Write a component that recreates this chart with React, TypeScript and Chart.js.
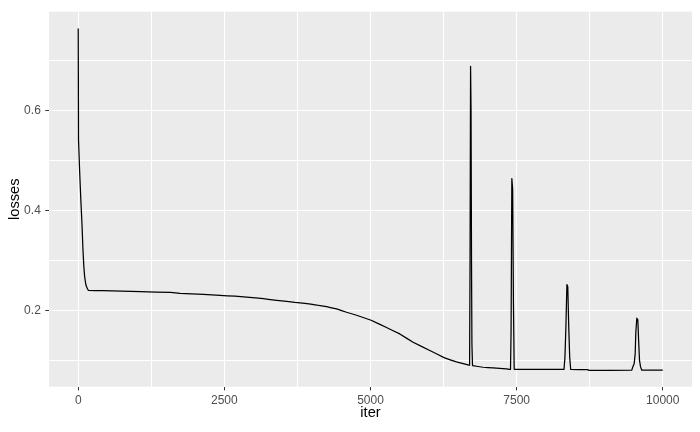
import React, { useEffect, useRef } from "react";
import { Chart, registerables } from "chart.js";

Chart.register(...registerables);

// Data
const iters = [
  0, 5, 25, 45, 65, 80, 95, 110, 130, 150, 175, 420, 1070, 1580, 1743, 2141,
  2426, 2682, 2882, 3081, 3252, 3395, 3566, 3708, 3879, 4078, 4249, 4420, 4591,
  4762, 5011, 5274, 5501, 5729, 6014, 6258, 6470, 6668, 6695, 6703, 6712, 6720,
  6728, 6735, 6745, 6812, 6925, 7096, 7324, 7395, 7405, 7418, 7432, 7445, 7458,
  7475, 8310, 8326, 8343, 8360, 8375, 8390, 8408, 8425, 8720, 8730, 9470, 9487,
  9511, 9528, 9539, 9556, 9573, 9588, 9602, 9620, 9641, 10000,
];
const losses = [
  0.765, 0.542, 0.476, 0.42, 0.371, 0.324, 0.289, 0.267, 0.2515, 0.2448, 0.2396,
  0.2392, 0.2372, 0.2356, 0.2337, 0.2317, 0.2297, 0.2283, 0.2263, 0.2244, 0.2218,
  0.2198, 0.2178, 0.2158, 0.2139, 0.2105, 0.2071, 0.2026, 0.196, 0.19, 0.18,
  0.1655, 0.1525, 0.1358, 0.1194, 0.105, 0.0963, 0.0903, 0.0897, 0.298, 0.689,
  0.601, 0.298, 0.133, 0.089, 0.0877, 0.0857, 0.0844, 0.0824, 0.0812, 0.157,
  0.464, 0.442, 0.2165, 0.0818, 0.0815, 0.0812, 0.105, 0.167, 0.2515, 0.247,
  0.172, 0.105, 0.0812, 0.081, 0.0795, 0.0798, 0.0864, 0.093, 0.113, 0.1556,
  0.184, 0.181, 0.136, 0.0996, 0.0864, 0.0798, 0.0798,
];

const xMajorTicks = [0, 2500, 5000, 7500, 10000];
const xMinorTicks = [1250, 3750, 6250, 8750];
const yMajorTicks = [0.2, 0.4, 0.6];
const yMinorTicks = [0.1, 0.3, 0.5, 0.7];
const xTitle = "iter";
const yTitle = "losses";

const FONT = "'Liberation Sans', Arial, sans-serif";

const isMajor = (list: number[], v: number) =>
  list.some((m) => Math.abs(m - v) < 1e-9);

const panelBg = {
  id: "panelBg",
  beforeDraw(chart: any) {
    const { ctx, chartArea } = chart;
    if (!chartArea) return;
    ctx.save();
    ctx.fillStyle = "#EBEBEB";
    ctx.fillRect(
      chartArea.left,
      chartArea.top,
      chartArea.right - chartArea.left,
      chartArea.bottom - chartArea.top
    );
    ctx.restore();
  },
};

export default function App() {
  const ref = useRef<HTMLCanvasElement | null>(null);

  useEffect(() => {
    if (!ref.current) return;
    const points = iters.map((x, i) => ({ x, y: losses[i] }));
    const chart = new Chart(ref.current, {
      type: "line",
      data: {
        datasets: [
          {
            data: points,
            borderColor: "#000000",
            borderWidth: 1.25,
            pointRadius: 0,
            tension: 0.0001,
            borderJoinStyle: "round",
            fill: false,
          },
        ],
      },
      plugins: [panelBg],
      options: {
        animation: false,
        responsive: false,
        devicePixelRatio: 1,
        layout: { padding: { top: 6.7, right: 8, left: 0, bottom: 0 } },
        plugins: {
          legend: { display: false },
          tooltip: { enabled: false },
        },
        scales: {
          x: {
            type: "linear",
            min: -500,
            max: 10500,
            afterBuildTicks: (s: any) => {
              s.ticks = [...xMajorTicks, ...xMinorTicks]
                .sort((a, b) => a - b)
                .map((v) => ({ value: v }));
            },
            afterFit: (s: any) => {
              s.height = 45.3;
            },
            ticks: {
              autoSkip: false,
              maxRotation: 0,
              padding: 3,
              color: "#4D4D4D",
              font: { family: FONT, size: 12 },
              callback: (v: any) => (isMajor(xMajorTicks, Number(v)) ? String(v) : ""),
            },
            grid: {
              color: "#FFFFFF",
              lineWidth: 1,
              tickColor: (c: any) =>
                c.tick && isMajor(xMajorTicks, c.tick.value) ? "#333333" : "rgba(0,0,0,0)",
              tickLength: 3.7,
              tickWidth: 1,
            },
            border: { display: false },
            title: {
              display: true,
              text: xTitle,
              color: "#000000",
              font: { family: FONT, size: 14.67 },
              padding: { top: 0, bottom: 10.5 },
            },
          },
          y: {
            type: "linear",
            min: 0.0467,
            max: 0.7986,
            afterBuildTicks: (s: any) => {
              s.ticks = [...yMajorTicks, ...yMinorTicks]
                .sort((a, b) => a - b)
                .map((v) => ({ value: v }));
            },
            afterFit: (s: any) => {
              s.width = 49;
            },
            ticks: {
              autoSkip: false,
              padding: 4.5,
              color: "#4D4D4D",
              font: { family: FONT, size: 12 },
              callback: (v: any) =>
                isMajor(yMajorTicks, Number(v)) ? Number(v).toFixed(1) : "",
            },
            grid: {
              color: "#FFFFFF",
              lineWidth: 1,
              tickColor: (c: any) =>
                c.tick && isMajor(yMajorTicks, c.tick.value) ? "#333333" : "rgba(0,0,0,0)",
              tickLength: 3.7,
              tickWidth: 1,
            },
            border: { display: false },
            title: {
              display: true,
              text: yTitle,
              color: "#000000",
              font: { family: FONT, size: 14.67 },
              padding: { top: 6, bottom: 0 },
            },
          },
        },
      },
    } as any);
    return () => chart.destroy();
  }, []);

  return (
    <div
      style={{
        position: "absolute",
        left: 0,
        top: 0,
        width: 700,
        height: 432,
        background: "#FFFFFF",
      }}
    >
      <canvas ref={ref} width={700} height={432} style={{ display: "block" }} />
    </div>
  );
}
